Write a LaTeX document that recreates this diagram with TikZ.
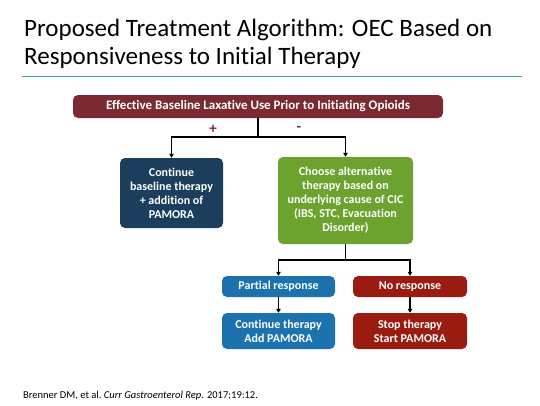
\documentclass[tikz,border=0pt]{standalone}
\usepackage{fontspec}
\setmainfont{Carlito}[Ligatures=NoCommon]
\usepackage{tikz}
\usetikzlibrary{calc,positioning,arrows.meta}
\definecolor{maroonc}{RGB}{122,42,48}
\definecolor{navyc}{RGB}{27,62,92}
\definecolor{greenc}{RGB}{107,163,46}
\definecolor{bluec}{RGB}{27,114,174}
\definecolor{redc}{RGB}{154,27,16}
\definecolor{rulec}{RGB}{70,160,170}
\tikzset{
  box/.style={rectangle,rounded corners=5pt,inner sep=0pt,align=center,text=white,
    font=\fontsize{12}{14}\selectfont\bfseries},
  link/.style={line width=1.1pt,black},
  arr/.style={link,-{Triangle[length=4pt,width=4.5pt]}},
  sign/.style={font=\fontsize{15}{15}\selectfont\bfseries,text=maroonc},
  ttl/.style={anchor=base west,inner sep=0pt,font=\fontsize{25}{30}\selectfont},
}
\begin{document}
\begin{tikzpicture}[x=1pt,y=-1pt]
  \useasboundingbox (0,0) rectangle (540,405);
  \node[ttl](title1) at (24,36){Proposed Treatment Algorithm: OEC Based on};
  \node[ttl](title2) at (24,64){Responsiveness to Initial Therapy};
  \draw[rulec,line width=0.9pt] (22,76) -- (522,76);
  \node[box,fill=maroonc,minimum width=370pt,minimum height=23pt,font=\fontsize{13}{14}\selectfont\bfseries](top) at (258,106.5)
    {Effective Baseline Laxative Use Prior to Initiating Opioids};
  \node[box,fill=navyc,minimum width=103pt,minimum height=70pt](cont) at (171.5,193)
    {Continue\\baseline therapy\\+ addition of\\PAMORA};
  \node[box,fill=greenc,minimum width=135pt,minimum height=87pt](alt) at (345.5,200.5)
    {Choose alternative\\therapy based on\\underlying cause of CIC\\(IBS, STC, Evacuation\\Disorder)};
  \node[box,fill=bluec,minimum width=113pt,minimum height=21pt](part) at (278.5,286.5){Partial response};
  \node[box,fill=redc,minimum width=114pt,minimum height=21pt](none) at (410,286.5){No response};
  \node[box,fill=bluec,minimum width=113pt,minimum height=36pt](addp) at (278.5,331)
    {Continue therapy\\Add PAMORA};
  \node[box,fill=redc,minimum width=114pt,minimum height=36pt](startp) at (410,331)
    {Stop therapy\\Start PAMORA};
  \node[sign](plus) at (213,129){+};
  \node[sign](minus) at (299,129){-};
  \coordinate (j1) at (top.south |- 0,137);
  \coordinate (j2) at (alt.south |- 0,260);
  \draw[link] (top.south) -- (j1);
  \draw[arr] (j1) -| (cont.north);
  \draw[arr] (j1) -| (alt.north);
  \draw[link] (alt.south) -- (j2);
  \draw[arr] (j2) -| (part.north);
  \draw[arr] (j2) -| (none.north);
  \draw[arr] (part) -- (addp);
  \draw[arr] (none) -- (startp);
  \node[anchor=base west,inner sep=0pt,font=\fontsize{10.5}{12}\selectfont](cite) at (23,398)
    {Brenner DM, et al.\ \textit{Curr Gastroenterol Rep.} 2017;19:12.};
\end{tikzpicture}
\end{document}
